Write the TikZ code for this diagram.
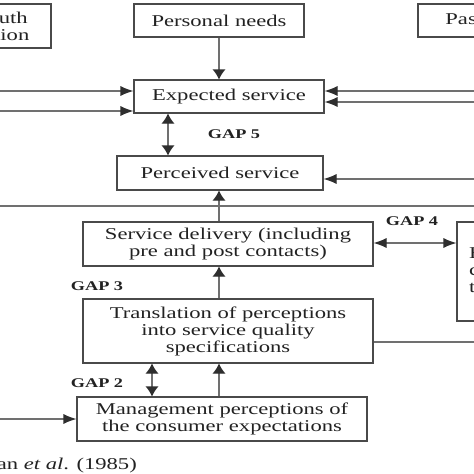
\documentclass[tikz,border=0pt]{standalone}
\usepackage{fontspec}
\setmainfont{Liberation Serif}[FakeStretch=1.37]
\usetikzlibrary{arrows.meta}
\definecolor{boxc}{HTML}{4A4A4A}
\definecolor{linec}{HTML}{707070}
\definecolor{txtc}{HTML}{222222}
\definecolor{arrc}{HTML}{2E2E2E}
\begin{document}
\begin{tikzpicture}[x=1pt,y=-1pt,
  box/.style={draw=boxc, line width=1.1pt, inner sep=0pt, align=center, text=txtc,
    font=\fontsize{16.5}{17}\selectfont},
  gaplab/.style={font=\bfseries\fontsize{13.3}{14}\selectfont, text=txtc, inner sep=0pt},
  ln/.style={draw=linec, line width=1.1pt},
  harr/.style={ln, -{Latex[length=13pt,width=10pt,color=arrc]}},
  varr/.style={ln, -{Latex[length=10pt,width=13pt,color=arrc]}},
  hdarr/.style={ln, {Latex[length=13pt,width=10pt,color=arrc]}-{Latex[length=13pt,width=10pt,color=arrc]}},
  vdarr/.style={ln, {Latex[length=10pt,width=13pt,color=arrc]}-{Latex[length=10pt,width=13pt,color=arrc]}}
]
\useasboundingbox (0,0) rectangle (474,474);
\clip (0,0) rectangle (474,474);
\fill[white] (0,0) rectangle (474,474);

% boxes
\node[box, minimum width=184pt, minimum height=44pt] (wom) at (-41,26) {Word of mouth\\communication};
\node[box, minimum width=170pt, minimum height=33pt] (pn) at (219,20.5) {Personal needs};
\node[box, minimum width=196pt, minimum height=33pt] (pe) at (516,20.5) {Past experience};
\node[box, minimum width=190pt, minimum height=33pt] (es) at (229,96.5) {Expected service};
\node[box, minimum width=206pt, minimum height=34pt] (ps) at (220,173) {Perceived service};
\node[box, minimum width=290pt, minimum height=44pt] (sd) at (228,244) {Service delivery (including\\pre and post contacts)};
\node[box, minimum width=290pt, minimum height=64pt] (tr) at (228,331) {Translation of perceptions\\into service quality\\specifications};
\node[box, minimum width=290pt, minimum height=44pt] (mp) at (222,419) {Management perceptions of\\the consumer expectations};
\node[draw=boxc, line width=1.1pt, minimum width=160pt, minimum height=99pt, inner sep=0pt] (ec) at (537,271.5) {};
\node[anchor=west, align=left, inner sep=0pt, text=txtc, font=\fontsize{16.5}{17}\selectfont] (ect) at (469,270) {External\\communications\\to consumers};

% gap labels
\node[gaplab] (g5) at (234,134) {GAP 5};
\node[gaplab] (g4) at (412,221) {GAP 4};
\node[gaplab] (g3) at (97,286) {GAP 3};
\node[gaplab] (g2) at (97,383) {GAP 2};

% caption
\node[anchor=east, inner sep=0pt, text=txtc, font=\fontsize{16.5}{17}\selectfont] (cap) at (137,466) {Source: Parasuraman \textit{et al}. (1985)};

% free ends
\coordinate (l1) at (0,91);
\coordinate (l2) at (0,111);
\coordinate (r1) at (474,91);
\coordinate (r2) at (474,102);
\coordinate (r3) at (474,179);
\coordinate (sepL) at (0,206);
\coordinate (sepR) at (474,206);
\coordinate (r4) at (474,342);
\coordinate (l3) at (0,419);

% connectors
\draw[harr] (l1) -- (l1 -| es.west);
\draw[harr] (l2) -- (l2 -| es.west);
\draw[harr] (r1) -- (r1 -| es.east);
\draw[harr] (r2) -- (r2 -| es.east);
\draw[harr] (r3) -- (r3 -| ps.east);
\draw[ln] (sepL) -- (sepR);
\draw[ln] (r4 -| tr.east) -- (r4);
\draw[harr] (l3) -- (l3 -| mp.west);

\draw[varr] (pn.south) -- (pn.south |- es.north);
\draw[vdarr] ([xshift=-61pt]es.south) -- ([xshift=-61pt]es.south |- ps.north);
\draw[varr] ([xshift=-9pt]sd.north) -- ([xshift=-9pt]sd.north |- ps.south);
\draw[varr] ([xshift=-9pt]tr.north) -- ([xshift=-9pt]tr.north |- sd.south);
\draw[vdarr] ([xshift=-70pt]mp.north) -- ([xshift=-70pt]mp.north |- tr.south);
\draw[varr] ([xshift=-3pt]mp.north) -- ([xshift=-3pt]mp.north |- tr.south);
\draw[hdarr] (sd.east |- 0,243) -- (ec.west |- 0,243);
\end{tikzpicture}
\end{document}
